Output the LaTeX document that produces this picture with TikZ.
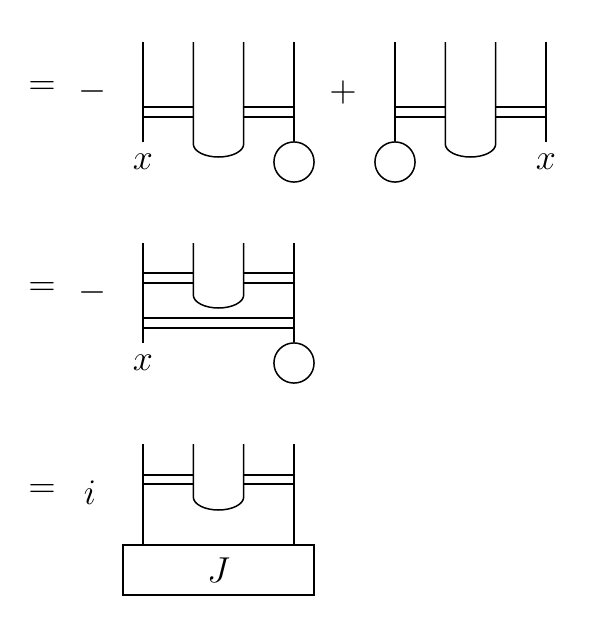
\documentclass[tikz,border=0pt]{standalone}
\usetikzlibrary{positioning}
\tikzset{
  blob/.style={draw, circle, minimum size=0.47cm, inner sep=0pt},
  source/.style={draw, rectangle, minimum width=2.24cm, minimum height=0.586cm, inner sep=0pt},
  lbl/.style={font=\large}
}
\begin{document}
\begin{tikzpicture}[x=0.1171cm, y=0.1171cm, line width=0.5pt]
\useasboundingbox (0,0) rectangle (59.2,63.2);

% first line
\node[lbl] (eqA) at (4.2,54.4) {$=$};
\node[lbl] (minusA) at (9.3,54.1) {$-$};
\node[lbl] (plusA) at (34.3,54.0) {$+$};

\begin{scope}[shift={(14.3,47)}]
  \node[blob] (blobA) at (15.1,0) {};
  \node[lbl] (xA) at (0,0) {$x$};
  \draw (0,12) -- (0,2);
  \draw (15.1,12) -- (blobA.north);
  \draw (5.03,12) -- (5.03,1.8) arc[start angle=180, end angle=360, x radius=2.52, y radius=1.3] -- (10.07,12);
  \foreach \y in {5.5,4.5}{
    \draw (0,\y) -- (5.03,\y);
    \draw (10.07,\y) -- (15.1,\y);
  }
\end{scope}

\begin{scope}[shift={(39.5,47)}]
  \node[blob] (blobB) at (0,0) {};
  \node[lbl] (xB) at (15.1,0) {$x$};
  \draw (0,12) -- (blobB.north);
  \draw (15.1,12) -- (15.1,2);
  \draw (5.03,12) -- (5.03,1.8) arc[start angle=180, end angle=360, x radius=2.52, y radius=1.3] -- (10.07,12);
  \foreach \y in {5.5,4.5}{
    \draw (0,\y) -- (5.03,\y);
    \draw (10.07,\y) -- (15.1,\y);
  }
\end{scope}

% second line
\node[lbl] (eqB) at (4.2,34.3) {$=$};
\node[lbl] (minusB) at (9.3,34.0) {$-$};

\begin{scope}[shift={(14.3,26.9)}]
  \node[blob] (blobC) at (15.1,0) {};
  \node[lbl] (xC) at (0,0) {$x$};
  \draw (0,12) -- (0,2);
  \draw (15.1,12) -- (blobC.north);
  \draw (5.03,12) -- (5.03,6.8) arc[start angle=180, end angle=360, x radius=2.52, y radius=1.3] -- (10.07,12);
  \foreach \y in {9,8}{
    \draw (0,\y) -- (5.03,\y);
    \draw (10.07,\y) -- (15.1,\y);
  }
  \foreach \y in {4.5,3.5}
    \draw (0,\y) -- (15.1,\y);
\end{scope}

% third line
\node[lbl] (eqC) at (4.2,14.1) {$=$};
\node[lbl] (iC) at (9.0,13.9) {$i$};

\begin{scope}[shift={(14.3,6.8)}]
  \node[source, lbl] (J) at (7.55,-0.6) {$J$};
  \draw (0,12) -- (0,0 |- J.north);
  \draw (15.1,12) -- (15.1,0 |- J.north);
  \draw (5.03,12) -- (5.03,6.7) arc[start angle=180, end angle=360, x radius=2.52, y radius=1.3] -- (10.07,12);
  \foreach \y in {8.9,8}{
    \draw (0,\y) -- (5.03,\y);
    \draw (10.07,\y) -- (15.1,\y);
  }
\end{scope}
\end{tikzpicture}
\end{document}
